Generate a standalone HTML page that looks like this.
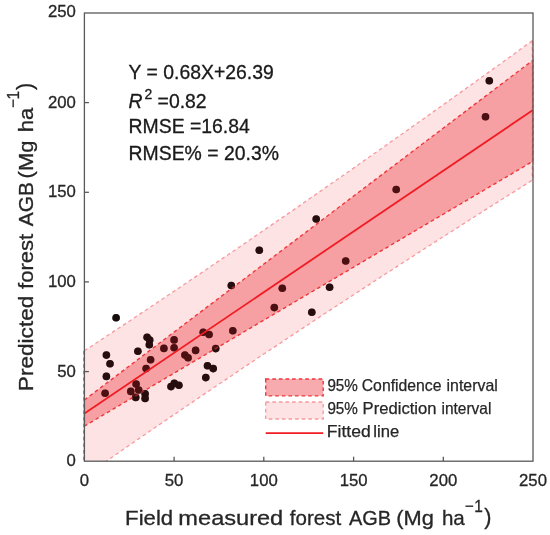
<!DOCTYPE html>
<html lang="en">
<head>
<meta charset="utf-8">
<title>Predicted vs field measured forest AGB</title>
<style>
html,body{margin:0;padding:0;background:#fff;}
body{width:550px;height:535px;overflow:hidden;font-family:"Liberation Sans",sans-serif;}
svg{display:block;}
.tick text{font-family:"Liberation Sans",sans-serif;font-size:17.4px;fill:#262626;stroke:#262626;stroke-width:0.3px;}
.axl{font-family:"Liberation Sans",sans-serif;font-size:20.6px;fill:#262626;stroke:#262626;stroke-width:0.3px;}
.ann text{font-family:"Liberation Sans",sans-serif;font-size:19.4px;fill:#1a1a1a;stroke:#1a1a1a;stroke-width:0.3px;}
.leg text{font-family:"Liberation Sans",sans-serif;font-size:16.5px;fill:#262626;stroke:#262626;stroke-width:0.25px;}
</style>
</head>
<body>
<svg width="550" height="535" viewBox="0 0 550 535">
<rect width="550" height="535" fill="#ffffff"/>
<defs><clipPath id="plot"><rect x="83.5" y="13.0" width="450.4" height="448.2"/></clipPath></defs>
<g clip-path="url(#plot)">
<g fill="#150b0b">
<circle cx="116.1" cy="317.8" r="3.8"/>
<circle cx="147.1" cy="337.3" r="3.8"/>
<circle cx="149.7" cy="340.0" r="3.8"/>
<circle cx="149.3" cy="344.8" r="3.8"/>
<circle cx="137.9" cy="351.2" r="3.8"/>
<circle cx="106.4" cy="355.1" r="3.8"/>
<circle cx="110.0" cy="363.8" r="3.8"/>
<circle cx="106.4" cy="376.4" r="3.8"/>
<circle cx="105.1" cy="393.3" r="3.8"/>
<circle cx="150.6" cy="359.8" r="3.8"/>
<circle cx="146.1" cy="368.5" r="3.8"/>
<circle cx="163.9" cy="348.4" r="3.8"/>
<circle cx="174.1" cy="339.9" r="3.8"/>
<circle cx="174.1" cy="347.7" r="3.8"/>
<circle cx="136.1" cy="384.1" r="3.8"/>
<circle cx="130.8" cy="391.4" r="3.8"/>
<circle cx="138.7" cy="390.0" r="3.8"/>
<circle cx="135.7" cy="397.4" r="3.8"/>
<circle cx="145.1" cy="393.8" r="3.8"/>
<circle cx="145.1" cy="398.4" r="3.8"/>
<circle cx="171.0" cy="386.6" r="3.8"/>
<circle cx="174.3" cy="383.3" r="3.8"/>
<circle cx="178.9" cy="385.3" r="3.8"/>
<circle cx="184.9" cy="355.1" r="3.8"/>
<circle cx="188.1" cy="357.7" r="3.8"/>
<circle cx="195.6" cy="350.4" r="3.8"/>
<circle cx="203.2" cy="332.3" r="3.8"/>
<circle cx="209.1" cy="334.5" r="3.8"/>
<circle cx="215.7" cy="348.6" r="3.8"/>
<circle cx="207.5" cy="365.8" r="3.8"/>
<circle cx="213.2" cy="368.6" r="3.8"/>
<circle cx="205.8" cy="377.6" r="3.8"/>
<circle cx="259.3" cy="250.2" r="3.8"/>
<circle cx="231.3" cy="285.5" r="3.8"/>
<circle cx="282.3" cy="288.3" r="3.8"/>
<circle cx="274.3" cy="307.6" r="3.8"/>
<circle cx="311.8" cy="312.2" r="3.8"/>
<circle cx="232.8" cy="330.8" r="3.8"/>
<circle cx="316.2" cy="219.0" r="3.8"/>
<circle cx="345.7" cy="261.0" r="3.8"/>
<circle cx="329.6" cy="287.2" r="3.8"/>
<circle cx="396.2" cy="189.5" r="3.8"/>
<circle cx="489.3" cy="80.8" r="3.8"/>
<circle cx="485.5" cy="116.7" r="3.8"/>
</g>
<polygon points="84.4,350.8 93.4,344.9 102.3,339.0 111.3,333.1 120.3,327.1 129.3,321.2 138.2,315.2 147.2,309.2 156.2,303.2 165.1,297.2 174.1,291.2 183.1,285.2 192.1,279.1 201.0,273.1 210.0,267.0 219.0,260.9 228.0,254.8 236.9,248.7 245.9,242.6 254.9,236.4 263.8,230.3 272.8,224.1 281.8,217.9 290.8,211.8 299.7,205.6 308.7,199.3 317.7,193.1 326.6,186.9 335.6,180.6 344.6,174.4 353.6,168.1 362.5,161.8 371.5,155.5 380.5,149.2 389.4,142.9 398.4,136.5 407.4,130.2 416.4,123.8 425.3,117.5 434.3,111.1 443.3,104.7 452.3,98.3 461.2,91.9 470.2,85.5 479.2,79.0 488.1,72.6 497.1,66.2 506.1,59.7 515.1,53.2 524.0,46.7 533.0,40.3 533.0,179.7 524.0,185.4 515.1,191.1 506.1,196.7 497.1,202.4 488.1,208.1 479.2,213.8 470.2,219.5 461.2,225.3 452.3,231.0 443.3,236.7 434.3,242.5 425.3,248.3 416.4,254.0 407.4,259.8 398.4,265.6 389.4,271.4 380.5,277.2 371.5,283.1 362.5,288.9 353.6,294.8 344.6,300.7 335.6,306.5 326.6,312.4 317.7,318.3 308.7,324.3 299.7,330.2 290.8,336.1 281.8,342.1 272.8,348.1 263.8,354.0 254.9,360.0 245.9,366.0 236.9,372.1 228.0,378.1 219.0,384.1 210.0,390.2 201.0,396.3 192.1,402.4 183.1,408.5 174.1,414.6 165.1,420.7 156.2,426.8 147.2,433.0 138.2,439.1 129.3,445.3 120.3,451.5 111.3,457.7 102.3,463.9 93.4,470.2 84.4,476.4" fill="#ed1c24" fill-opacity="0.12" stroke="#f69a9e" stroke-width="1.3" stroke-dasharray="3.6 3"/>
<polygon points="84.4,400 533.0,60.2 533.0,161.2 84.4,426.1" fill="#ed1c24" fill-opacity="0.335" stroke="#f0363a" stroke-width="1.4" stroke-dasharray="3.6 3"/>
<g fill="#1a1010" opacity="0.4">
<circle cx="116.1" cy="317.8" r="3.8"/>
<circle cx="147.1" cy="337.3" r="3.8"/>
<circle cx="149.7" cy="340.0" r="3.8"/>
<circle cx="149.3" cy="344.8" r="3.8"/>
<circle cx="137.9" cy="351.2" r="3.8"/>
<circle cx="106.4" cy="355.1" r="3.8"/>
<circle cx="110.0" cy="363.8" r="3.8"/>
<circle cx="106.4" cy="376.4" r="3.8"/>
<circle cx="105.1" cy="393.3" r="3.8"/>
<circle cx="150.6" cy="359.8" r="3.8"/>
<circle cx="146.1" cy="368.5" r="3.8"/>
<circle cx="163.9" cy="348.4" r="3.8"/>
<circle cx="174.1" cy="339.9" r="3.8"/>
<circle cx="174.1" cy="347.7" r="3.8"/>
<circle cx="136.1" cy="384.1" r="3.8"/>
<circle cx="130.8" cy="391.4" r="3.8"/>
<circle cx="138.7" cy="390.0" r="3.8"/>
<circle cx="135.7" cy="397.4" r="3.8"/>
<circle cx="145.1" cy="393.8" r="3.8"/>
<circle cx="145.1" cy="398.4" r="3.8"/>
<circle cx="171.0" cy="386.6" r="3.8"/>
<circle cx="174.3" cy="383.3" r="3.8"/>
<circle cx="178.9" cy="385.3" r="3.8"/>
<circle cx="184.9" cy="355.1" r="3.8"/>
<circle cx="188.1" cy="357.7" r="3.8"/>
<circle cx="195.6" cy="350.4" r="3.8"/>
<circle cx="203.2" cy="332.3" r="3.8"/>
<circle cx="209.1" cy="334.5" r="3.8"/>
<circle cx="215.7" cy="348.6" r="3.8"/>
<circle cx="207.5" cy="365.8" r="3.8"/>
<circle cx="213.2" cy="368.6" r="3.8"/>
<circle cx="205.8" cy="377.6" r="3.8"/>
<circle cx="259.3" cy="250.2" r="3.8"/>
<circle cx="231.3" cy="285.5" r="3.8"/>
<circle cx="282.3" cy="288.3" r="3.8"/>
<circle cx="274.3" cy="307.6" r="3.8"/>
<circle cx="311.8" cy="312.2" r="3.8"/>
<circle cx="232.8" cy="330.8" r="3.8"/>
<circle cx="316.2" cy="219.0" r="3.8"/>
<circle cx="345.7" cy="261.0" r="3.8"/>
<circle cx="329.6" cy="287.2" r="3.8"/>
<circle cx="396.2" cy="189.5" r="3.8"/>
<circle cx="489.3" cy="80.8" r="3.8"/>
<circle cx="485.5" cy="116.7" r="3.8"/>
</g>
<line x1="84.4" y1="413.6" x2="533.0" y2="110.0" stroke="#f01c24" stroke-width="1.8"/>
</g>
<line x1="83.60000000000001" y1="351" x2="83.60000000000001" y2="461.2" stroke="#f26a6e" stroke-width="1" stroke-dasharray="3.6 3"/>
<line x1="532.3" y1="40.5" x2="532.3" y2="179.7" stroke="#f0585c" stroke-width="0.9" stroke-dasharray="3.6 3"/>
<g stroke="#595959" stroke-width="1.3" fill="none">
<rect x="84.4" y="13.0" width="448.6" height="448.2"/>
<line x1="174.1" y1="461.2" x2="174.1" y2="456.7"/>
<line x1="84.4" y1="371.6" x2="88.9" y2="371.6"/>
<line x1="263.8" y1="461.2" x2="263.8" y2="456.7"/>
<line x1="84.4" y1="281.9" x2="88.9" y2="281.9"/>
<line x1="353.6" y1="461.2" x2="353.6" y2="456.7"/>
<line x1="84.4" y1="192.3" x2="88.9" y2="192.3"/>
<line x1="443.3" y1="461.2" x2="443.3" y2="456.7"/>
<line x1="84.4" y1="102.6" x2="88.9" y2="102.6"/>
</g>
<g class="tick">
<text x="84.4" y="485.8" text-anchor="middle" textLength="9.3" lengthAdjust="spacingAndGlyphs">0</text>
<text x="174.1" y="485.8" text-anchor="middle" textLength="18.6" lengthAdjust="spacingAndGlyphs">50</text>
<text x="263.8" y="485.8" text-anchor="middle" textLength="27.9" lengthAdjust="spacingAndGlyphs">100</text>
<text x="353.6" y="485.8" text-anchor="middle" textLength="27.9" lengthAdjust="spacingAndGlyphs">150</text>
<text x="443.3" y="485.8" text-anchor="middle" textLength="27.9" lengthAdjust="spacingAndGlyphs">200</text>
<text x="533.0" y="485.8" text-anchor="middle" textLength="27.9" lengthAdjust="spacingAndGlyphs">250</text>
<text x="75.8" y="466.3" text-anchor="end" textLength="9.3" lengthAdjust="spacingAndGlyphs">0</text>
<text x="75.8" y="376.7" text-anchor="end" textLength="18.6" lengthAdjust="spacingAndGlyphs">50</text>
<text x="75.8" y="287.0" text-anchor="end" textLength="27.9" lengthAdjust="spacingAndGlyphs">100</text>
<text x="75.8" y="197.4" text-anchor="end" textLength="27.9" lengthAdjust="spacingAndGlyphs">150</text>
<text x="75.8" y="107.7" text-anchor="end" textLength="27.9" lengthAdjust="spacingAndGlyphs">200</text>
<text x="75.8" y="17.3" text-anchor="end" textLength="27.9" lengthAdjust="spacingAndGlyphs">250</text>
</g>
<text class="axl" y="524.7"><tspan x="125.13" textLength="48.04" lengthAdjust="spacingAndGlyphs">Field</tspan> <tspan x="178.39" textLength="104.87" lengthAdjust="spacingAndGlyphs">measured</tspan> <tspan x="289.87" textLength="51.36" lengthAdjust="spacingAndGlyphs">forest</tspan> <tspan x="349.08" textLength="42.08" lengthAdjust="spacingAndGlyphs">AGB</tspan> <tspan x="396.2" textLength="37.59" lengthAdjust="spacingAndGlyphs">(Mg</tspan> <tspan x="441.93" textLength="22.92" lengthAdjust="spacingAndGlyphs">ha</tspan><tspan x="465.1" y="510.9" style="font-size:15px">−</tspan><tspan x="474.3" y="512.2" style="font-size:17px" textLength="8.6" lengthAdjust="spacingAndGlyphs">1</tspan><tspan x="484.2" y="524.3" style="font-size:21.7px">)</tspan></text>
<g transform="translate(32.6,400) rotate(-90)">
<text class="axl" y="0"><tspan x="8.84" textLength="95.48" lengthAdjust="spacingAndGlyphs">Predicted</tspan> <tspan x="111.11" textLength="55.11" lengthAdjust="spacingAndGlyphs">forest</tspan> <tspan x="173.75" textLength="44.11" lengthAdjust="spacingAndGlyphs">AGB</tspan> <tspan x="221.62" textLength="37.75" lengthAdjust="spacingAndGlyphs">(Mg</tspan> <tspan x="267.71" textLength="24.61" lengthAdjust="spacingAndGlyphs">ha</tspan><tspan x="292.2" y="-15" style="font-size:15px">−</tspan><tspan x="300.5" y="-13.5" style="font-size:17px" textLength="8.6" lengthAdjust="spacingAndGlyphs">1</tspan><tspan x="310.1" y="-1.1" style="font-size:21.7px">)</tspan></text>
</g>
<g class="ann">
<text transform="translate(128.6,79.2) scale(1,1.075)" >Y = 0.68X+26.39</text>
<text transform="translate(128.6,108.2) scale(1,1.075)" ><tspan font-style="italic">R</tspan><tspan x="15.9" y="-8.65" style="font-size:14px">2</tspan><tspan x="23.61" y="0"> =0.82</tspan></text>
<text transform="translate(128.6,133.2) scale(1,1.075)" >RMSE =16.84</text>
<text transform="translate(128.6,159.8) scale(1,1.075)" >RMSE% = 20.3%</text>
</g>
<rect x="265.7" y="379" width="57.5" height="16.9" fill="#ed1c24" fill-opacity="0.37" stroke="#f0363a" stroke-width="1.4" stroke-dasharray="3.6 3"/>
<rect x="265.7" y="402" width="57.5" height="17" fill="#ed1c24" fill-opacity="0.12" stroke="#f69a9e" stroke-width="1.3" stroke-dasharray="3.6 3"/>
<line x1="265.7" y1="433.2" x2="323.2" y2="433.2" stroke="#f01c24" stroke-width="1.8"/>
<g class="leg">
<text y="391.4"><tspan x="327.39" textLength="30.56" lengthAdjust="spacingAndGlyphs">95%</tspan> <tspan x="361.72" textLength="79.78" lengthAdjust="spacingAndGlyphs">Confidence</tspan> <tspan x="446.59" textLength="51.19" lengthAdjust="spacingAndGlyphs">interval</tspan></text>
<text y="414.3"><tspan x="327.39" textLength="30.56" lengthAdjust="spacingAndGlyphs">95%</tspan> <tspan x="362.62" textLength="73.91" lengthAdjust="spacingAndGlyphs">Prediction</tspan> <tspan x="441.46" textLength="49.92" lengthAdjust="spacingAndGlyphs">interval</tspan></text>
<text y="437.2"><tspan x="326.83" textLength="43.92" lengthAdjust="spacingAndGlyphs">Fitted</tspan> <tspan x="373.26" textLength="25.87" lengthAdjust="spacingAndGlyphs">line</tspan></text>
</g>
</svg>
</body>
</html>
